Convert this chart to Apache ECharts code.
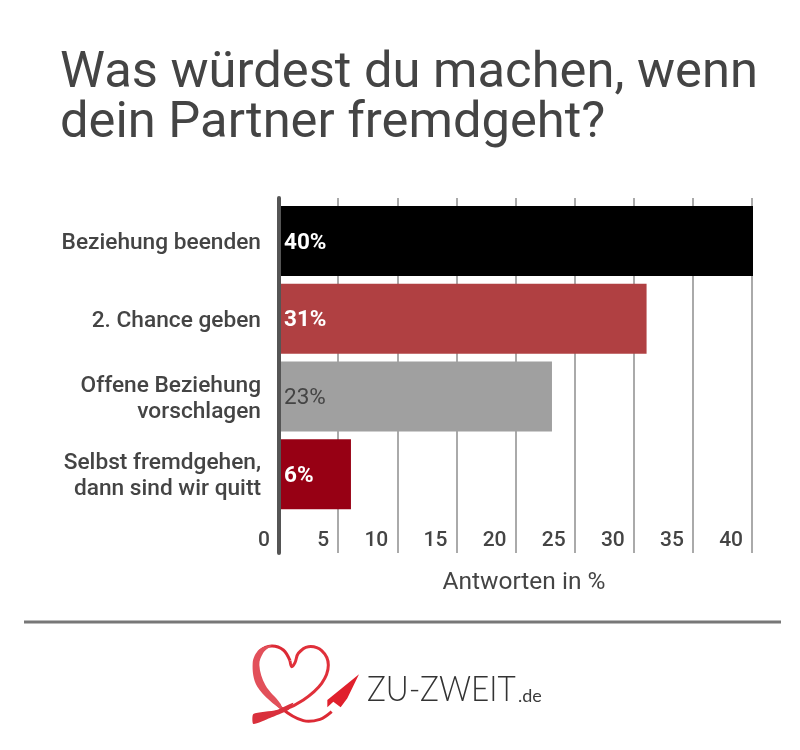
<!DOCTYPE html>
<html>
<head>
<meta charset="utf-8">
<script src="https://cdn.jsdelivr.net/npm/echarts@6/dist/echarts.min.js"></script>
<style>
  html, body { margin: 0; background: #fff; }
  #chart { width: 800px; height: 750px; }
</style>
</head>
<body>
<div id="chart"></div>
<script>
const titleText = 'Was würdest du machen, wenn\ndein Partner fremdgeht?'
const categories = ['Beziehung beenden', '2. Chance geben', 'Offene Beziehung\nvorschlagen', 'Selbst fremdgehen,\ndann sind wir quitt']
const values = [40, 31, 23, 6]
const barColors = ['#000000', '#b04042', '#a0a0a0', '#970014']
const labelColors = ['#ffffff', '#ffffff', '#444444', '#ffffff']
const labelWeights = [700, 700, 400, 700]
const axisName = 'Antworten in %'

// logo outlines, in zoomed crop coordinates (3x, from 240,630)
const logoRibbon = [[150, 92], [130, 60], [95, 48], [62, 62], [46, 100], [62, 165], [125, 235], [190, 272], [240, 268], [275, 245]]
const logoRight = [[150, 92], [155, 110], [165, 98], [175, 70], [205, 50], [245, 62], [265, 105], [245, 160], [190, 210], [130, 240], [40, 262]]
const logoLeftFill = [[95, 46], [58, 58], [38, 100], [52, 170], [125, 240], [122, 222], [76, 165], [58, 105], [70, 68]]
const logoTail = [[40, 252], [110, 240], [160, 218], [145, 240], [90, 264], [40, 282]]
const logoPlane = [[357, 133], [262, 210], [262, 232], [280, 215], [302, 232], [322, 205]]
const toPage = pts => pts.map(p => [240 + p[0] / 3, 630 + p[1] / 3])

const chart = echarts.init(document.getElementById('chart'))

chart.setOption({
  animation: false,
  backgroundColor: '#ffffff',
  title: {
    text: titleText,
    left: 55,
    top: 44,
    textStyle: { fontFamily: 'Roboto', fontSize: 50.7, fontWeight: 400, color: '#444444', lineHeight: 50 }
  },
  grid: [
    // backdrop: gridlines run past the bars on both ends
    { left: 279, top: 198, width: 473, height: 355 },
    { left: 280, top: 202, width: 473, height: 311 },
    // category labels sit slightly below the bar centres
    { left: 280, top: 204.5, width: 473, height: 311 }
  ],
  xAxis: [
    {
      gridIndex: 0,
      type: 'value',
      min: 0,
      max: 40,
      interval: 5,
      axisLine: { show: false },
      axisTick: { show: false },
      splitLine: { show: true, lineStyle: { color: '#aaaaaa', width: 2 } },
      axisLabel: {
        inside: true,
        margin: 2,
        align: 'right',
        padding: [0, 9, 0, 0],
        showMinLabel: true,
        showMaxLabel: true,
        hideOverlap: false,
        fontFamily: 'Roboto',
        fontSize: 21,
        fontWeight: 500,
        color: '#444444'
      },
      name: axisName,
      nameLocation: 'middle',
      nameGap: 17,
      nameTextStyle: { fontFamily: 'Roboto', fontSize: 24.5, color: '#444444', padding: [0, 0, 0, 17] }
    },
    { gridIndex: 1, type: 'value', min: 0, max: 40, show: false },
    { gridIndex: 2, type: 'value', min: 0, max: 40, show: false }
  ],
  yAxis: [
    {
      gridIndex: 0,
      type: 'value',
      min: 0,
      max: 1,
      z: 10,
      axisLine: { show: true, lineStyle: { color: '#555555', width: 4 } },
      axisTick: { show: false },
      axisLabel: { show: false },
      splitLine: { show: false }
    },
    {
      gridIndex: 1,
      type: 'category',
      inverse: true,
      data: categories,
      axisLine: { show: false },
      axisTick: { show: false },
      axisLabel: { show: false }
    },
    {
      gridIndex: 2,
      type: 'category',
      inverse: true,
      data: categories,
      axisLine: { show: false },
      axisTick: { show: false },
      axisLabel: {
        margin: 19,
        align: 'right',
        fontFamily: 'Roboto',
        fontSize: 22.7,
        fontWeight: 500,
        lineHeight: 26,
        color: '#444444'
      }
    }
  ],
  series: [
    { type: 'bar', xAxisIndex: 0, yAxisIndex: 0, data: [], silent: true },
    { type: 'bar', xAxisIndex: 2, yAxisIndex: 2, data: [], silent: true },
    {
      type: 'bar',
      xAxisIndex: 1,
      yAxisIndex: 1,
      z: 5,
      barWidth: 70,
      data: values.map((v, i) => ({
        value: v,
        itemStyle: { color: barColors[i] },
        label: { color: labelColors[i], fontWeight: labelWeights[i] }
      })),
      label: {
        show: true,
        position: 'insideLeft',
        distance: 4,
        offset: [0, 2],
        formatter: '{c}%',
        fontFamily: 'Roboto',
        fontSize: 22.5
      }
    }
  ],
  graphic: [
    { type: 'line', shape: { x1: 24, y1: 622, x2: 781, y2: 622 }, style: { stroke: '#777777', lineWidth: 3 } },
    { type: 'polyline', shape: { points: toPage(logoRibbon), smooth: 0.35 }, style: { stroke: '#dc2a35', lineWidth: 3, fill: null } },
    { type: 'polyline', shape: { points: toPage(logoRight), smooth: 0.35 }, style: { stroke: '#e0303a', lineWidth: 3, fill: null } },
    { type: 'polygon', shape: { points: toPage(logoLeftFill), smooth: 0.35 }, style: { fill: '#e2505a' } },
    { type: 'polygon', shape: { points: toPage(logoTail), smooth: 0.2 }, style: { fill: '#d9303c' } },
    { type: 'polygon', shape: { points: toPage(logoPlane) }, style: { fill: '#e0202c' } },
    {
      type: 'text',
      x: 367,
      y: 671,
      scaleX: 0.875,
      style: { text: 'ZU-ZWEIT', fontFamily: 'Lato', fontWeight: 300, fontSize: 36, fill: '#333333' }
    },
    {
      type: 'text',
      x: 518,
      y: 687,
      style: { text: '.de', fontFamily: 'Lato', fontWeight: 400, fontSize: 18, fill: '#3c3c3c' }
    }
  ]
})
</script>
</body>
</html>
